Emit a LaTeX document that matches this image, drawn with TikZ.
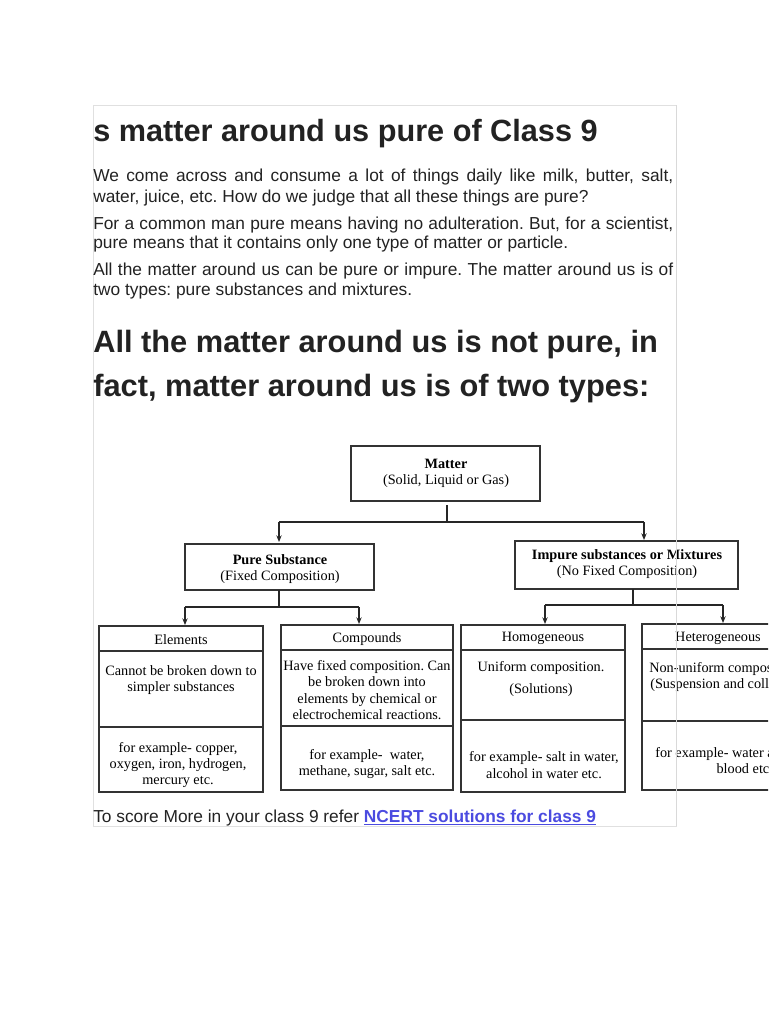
\documentclass[tikz,border=0pt]{standalone}
\usepackage{fontspec}
\setmainfont{Liberation Sans}
\newfontfamily\serifd{Liberation Serif}
\usetikzlibrary{arrows.meta}
\definecolor{linkc}{HTML}{4B4BE0}
\definecolor{txt}{HTML}{222222}
\frenchspacing
\begin{document}
\begin{tikzpicture}[x=0.75pt,y=-0.75pt,
  body/.style={anchor=west,inner sep=0pt,text=txt,font=\fontsize{13pt}{15pt}\selectfont},
  head/.style={anchor=west,inner sep=0pt,text=txt,font=\bfseries\fontsize{23.1pt}{27pt}\selectfont},
  dbox/.style={draw=black!80,line width=0.8pt},
  dt/.style={font=\serifd\fontsize{10.7pt}{12.2pt}\selectfont,align=center,inner sep=0pt},
  conn/.style={line width=1pt,black!85},
  arr/.style={conn,-{Stealth[length=5pt,width=4pt]}}]
\useasboundingbox (0,0) rectangle (768,1024);
\begin{scope}
\clip (0,0) rectangle (768,1024);
\draw[black!12,line width=0.6pt] (93,105) rectangle (676,826);
\node[head,font=\bfseries\fontsize{23pt}{27pt}\selectfont] (t) at (93,134) {s matter around us pure of Class 9};
\node[body] (p1) at (93,177) {\makebox[435pt][s]{We come across and consume a lot of things daily like milk, butter, salt,}};
\node[body] (p2) at (93,198) {water, juice, etc. How do we judge that all these things are pure?};
\node[body] (p3) at (93,225) {\makebox[435pt][s]{For a common man pure means having no adulteration. But, for a scientist,}};
\node[body] (p4) at (93,244) {pure means that it contains only one type of matter or particle.};
\node[body] (p5) at (93,271) {\makebox[435pt][s]{All the matter around us can be pure or impure. The matter around us is of}};
\node[body] (p6) at (93,291) {two types: pure substances and mixtures.};
\node[head] (h1) at (93,345) {All the matter around us is not pure, in};
\node[head] (h2) at (93,389) {fact, matter around us is of two types:};
% diagram
\draw[dbox] (351,446) rectangle (540,501);
\node[dt] (m) at (446,473) {\textbf{Matter}\\(Solid, Liquid or Gas)};
\draw[dbox] (185,544) rectangle (374,590);
\node[dt] (ps) at (280,569) {\textbf{Pure Substance}\\(Fixed Composition)};
\draw[dbox] (515,541) rectangle (738,589);
\node[dt] (im) at (627,564) {\textbf{Impure substances or Mixtures}\\(No Fixed Composition)};
\coordinate (m1) at (447,505); \coordinate (m2) at (447,522);
\coordinate (ml) at (279,522); \coordinate (mr) at (644,522);
\draw[conn] (m1) -- (m2); \draw[conn] (ml) -- (mr);
\draw[arr] (ml) -- (279,542); \draw[arr] (mr) -- (644,540);
\coordinate (pa) at (279,590); \coordinate (pb) at (279,607);
\draw[conn] (pa) -- (pb); \draw[conn] (185,607) -- (359,607);
\draw[arr] (185,607) -- (185,625); \draw[arr] (359,607) -- (359,624);
\coordinate (ia) at (633,589); \coordinate (ib) at (633,605);
\draw[conn] (ia) -- (ib); \draw[conn] (545,605) -- (723,605);
\draw[arr] (545,605) -- (545,624); \draw[arr] (723,605) -- (723,623);
% columns
\draw[dbox] (99,626) rectangle (263,792); \draw[dbox] (99,651) -- (263,651); \draw[dbox] (99,727) -- (263,727);
\node[dt] (e1) at (181,640) {Elements};
\node[dt] (e2) at (181,680) {Cannot be broken down to\\simpler substances};
\node[dt] (e3) at (178,765) {for example- copper,\\oxygen, iron, hydrogen,\\mercury etc.};
\draw[dbox] (281,625) rectangle (453,790); \draw[dbox] (281,650) -- (453,650); \draw[dbox] (281,726) -- (453,726);
\node[dt] (c1) at (367,639) {Compounds};
\node[dt] (c2) at (367,690) {Have fixed composition. Can\\be broken down into\\elements by chemical or\\electrochemical reactions.};
\node[dt] (c3) at (367,764) {for example-\ \ water,\\methane, sugar, salt etc.};
\draw[dbox] (461,625) rectangle (625,792); \draw[dbox] (461,650) -- (625,650); \draw[dbox] (461,720) -- (625,720);
\node[dt] (o1) at (543,638) {Homogeneous};
\node[dt] (o2) at (541,679) {Uniform composition.\\[4pt](Solutions)};
\node[dt] (o3) at (544,765) {for example- salt in water,\\alcohol in water etc.};
\draw[dbox] (642,624) rectangle (812,790); \draw[dbox] (642,649) -- (812,649); \draw[dbox] (642,721) -- (812,721);
\node[dt] (r1) at (718,638) {Heterogeneous};
\node[dt,anchor=north west] (r2) at (649,662) {Non-uniform composition\\(Suspension and colloids)};
\node[dt,anchor=north west,align=left] (r3) at (655,747) {for example- water and\\\hspace*{46pt}blood etc.};
\draw[black!15,line width=0.6pt] (676,105) -- (676,826);
\node[body,anchor=base west] (f) at (93,822) {To score More in your class 9 refer \textcolor{linkc}{\bfseries\underline{NCERT solutions for class 9}}};
\end{scope}
\end{tikzpicture}
\end{document}
